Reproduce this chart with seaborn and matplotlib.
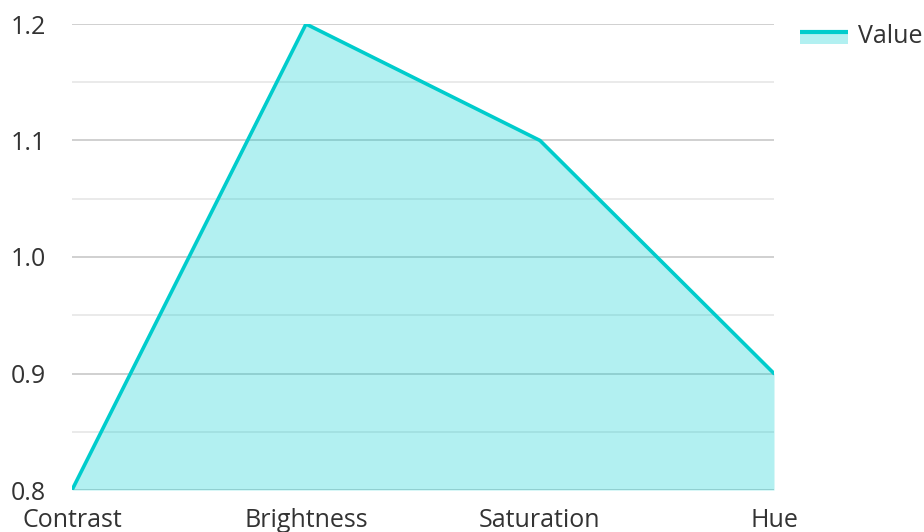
import matplotlib
matplotlib.use("Agg")
import matplotlib.pyplot as plt
import seaborn as sns
import pandas as pd
from matplotlib.legend_handler import HandlerBase
from matplotlib.patches import Rectangle
from matplotlib.lines import Line2D

categories = ["Contrast", "Brightness", "Saturation", "Hue"]
values = [0.8, 1.2, 1.1, 0.9]
y_ticks = [0.8, 0.9, 1.0, 1.1, 1.2]
y_labels = ["0.8", "0.9", "1.0", "1.1", "1.2"]
series_name = "Value"

LINE = "#00CCCC"
FILL = "#00CED1"

sns.set_style("white")
plt.rcParams["font.family"] = ["Open Sans", "DejaVu Sans"]

df = pd.DataFrame({"category": categories, "value": values})
df["x"] = range(len(categories))

fig = plt.figure(figsize=(9.24, 5.32), dpi=100)
ax = fig.add_axes([72/924, 1-490/532, (774-72)/924, (490-24)/532])

# gridlines
for t in y_ticks:
    ax.axhline(t, color="#c8c8c8", lw=1.2, zorder=0)
for t in [0.85, 0.95, 1.05, 1.15]:
    ax.axhline(t, color="#e6e6e6", lw=1.2, zorder=0)

ax.fill_between(df["x"], df["value"], 0.8, color=FILL, alpha=0.3, lw=0, zorder=1)
sns.lineplot(data=df, x="x", y="value", color=LINE, lw=2.6, ax=ax, zorder=2)

ax.set_xlim(0, len(categories) - 1)
ax.set_ylim(0.8, 1.2)
ax.set_xticks(df["x"])
ax.set_xticklabels(categories)
ax.set_yticks(y_ticks)
ax.set_yticklabels(y_labels)
ax.set_xlabel("")
ax.set_ylabel("")
for s in ax.spines.values():
    s.set_visible(False)
ax.tick_params(axis="both", length=0, labelsize=18, colors="#333333")
ax.tick_params(axis="y", pad=19)
ax.tick_params(axis="x", pad=13)


class AreaHandler(HandlerBase):
    def create_artists(self, legend, orig_handle, xdescent, ydescent, width, height, fontsize, trans):
        top = -ydescent + height * 0.75
        r = Rectangle((-xdescent, top - 14 * 0.72), width, 14 * 0.72, facecolor=FILL, alpha=0.3,
                      edgecolor="none", transform=trans)
        l = Line2D([-xdescent, -xdescent + width], [top - 1.2] * 2,
                   color=LINE, lw=3, solid_capstyle="butt", transform=trans)
        return [r, l]


h = Rectangle((0, 0), 1, 1)
leg = fig.legend([h], [series_name], handler_map={Rectangle: AreaHandler()},
                 loc="upper left", bbox_to_anchor=(800/924, 1-24/532), frameon=False,
                 fontsize=18, handlelength=1.92, handleheight=0.7, handletextpad=0.4,
                 borderaxespad=0, borderpad=0)
for t in leg.get_texts():
    t.set_color("#333333")

fig.savefig("out.png", dpi=100)
